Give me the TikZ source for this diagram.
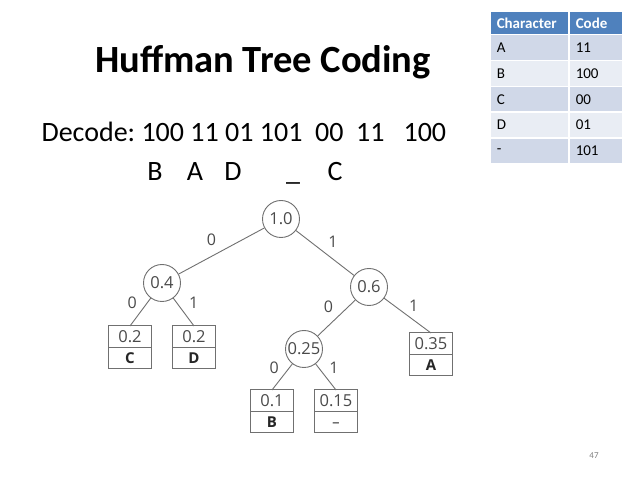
\documentclass[tikz,border=0pt]{standalone}
\usepackage{fontspec}
\setmainfont{Carlito}
\newfontfamily\arbolfont{Open Sans}
\usetikzlibrary{positioning}
\frenchspacing

\definecolor{cabecera}{HTML}{4F81BD}
\definecolor{filaosc}{HTML}{D0D8E8}
\definecolor{filacla}{HTML}{E9EDF4}
\definecolor{trazo}{HTML}{707070}
\definecolor{tinta}{HTML}{4A4A4A}

\begin{document}
\begin{tikzpicture}[
    x=1pt, y=-1pt,
    nodo/.style={circle, draw=trazo, line width=0.9pt, minimum size=37pt, inner sep=0pt,
                 font=\arbolfont\fontsize{16.5}{19}\selectfont, text=tinta},
    hoja/.style={rectangle, draw=trazo, line width=1pt, minimum width=43pt, minimum height=21.5pt,
                 inner sep=0pt, outer sep=0pt, font=\arbolfont\fontsize{16.5}{19}\selectfont, text=tinta},
    letra/.style={hoja, font=\arbolfont\bfseries\fontsize{15}{18}\selectfont, text=black!85},
    rama/.style={draw=trazo, line width=0.9pt},
    etq/.style={font=\arbolfont\fontsize{16}{18}\selectfont, text=tinta, inner sep=3pt},
    celda/.style={draw=white, line width=1.5pt, anchor=north west, inner xsep=7pt, inner ysep=0pt,
                  align=left, font=\fontsize{15}{18}\selectfont},
    grande/.style={font=\fontsize{28}{34}\selectfont}
]
\useasboundingbox[fill=white] (0,0) rectangle (638,478);

% titulo y ejemplo de decodificacion
\node[anchor=base, font=\bfseries\fontsize{38.5}{46}\selectfont] (titulo) at (263,73) {Huffman Tree Coding};
\node[grande, anchor=base west] (deco) at (38,142) {Decode: 100 11 01 101\ \ 00\ \ 11\ \ \ 100};
\node[grande, anchor=base] (lb) at (155,181) {B};
\node[grande, anchor=base] (la) at (195,181) {A};
\node[grande, anchor=base] (ld) at (233,181) {D};
\node[grande, anchor=base] (lg) at (293,181) {\_};
\node[grande, anchor=base] (lc) at (335,181) {C};

% tabla de codigos
\node[celda, fill=cabecera, text=white, font=\bfseries\fontsize{15}{18}\selectfont,
      text width=65pt, minimum height=23pt] (hcar) at (489,11) {Character};
\node[celda, fill=cabecera, text=white, font=\bfseries\fontsize{15}{18}\selectfont,
      text width=40pt, minimum height=23pt] (hcod) at (568,11) {Code};
\foreach \ch/\cd/\col [count=\i] in {A/11/filaosc, B/100/filacla, C/00/filaosc, D/01/filacla, -/101/filaosc}{
  \node[celda, fill=\col, text width=65pt, minimum height=25.8pt] (car\i) at (489,{34+25.8*(\i-1)}) {\ch};
  \node[celda, fill=\col, text width=40pt, minimum height=25.8pt] (cod\i) at (568,{34+25.8*(\i-1)}) {\cd};
}

% arbol
\node[nodo] (raiz) at (281,219) {1.0};
\node[nodo] (n04)  at (162,283) {0.4};
\node[nodo] (n06)  at (369,287) {0.6};
\node[nodo] (n025) at (304,349) {0.25};

\node[hoja, anchor=north] (cval) at (130,326) {0.2};
\node[letra, below=0pt of cval] (cchr) {C};
\node[hoja, anchor=north] (dval) at (194,326) {0.2};
\node[letra, below=0pt of dval] (dchr) {D};
\node[hoja, anchor=north] (aval) at (431,333) {0.35};
\node[letra, below=0pt of aval] (achr) {A};
\node[hoja, anchor=north] (bval) at (272,390) {0.1};
\node[letra, below=0pt of bval] (bchr) {B};
\node[hoja, anchor=north] (gval) at (336,390) {0.15};
\node[letra, below=0pt of gval] (gchr) {\_};

\draw[rama] (raiz) -- node[etq, above left, xshift=-2pt, yshift=2pt] (e1) {0} (n04);
\draw[rama] (raiz) -- node[etq, above right, yshift=2pt] (e2) {1} (n06);
\draw[rama] (n04) -- node[etq, above left] (e3) {0} (cval.north);
\draw[rama] (n04) -- node[etq, above right, xshift=2pt] (e4) {1} (dval.north);
\draw[rama] (n06) -- node[etq, above left, yshift=2pt] (e5) {0} (n025);
\draw[rama] (n06) -- node[etq, above right, xshift=-2pt, yshift=1pt] (e6) {1} (aval.north);
\draw[rama] (n025) -- node[etq, above left] (e7) {0} (bval.north);
\draw[rama] (n025) -- node[etq, above right] (e8) {1} (gval.north);

\node[font=\fontsize{9}{11}\selectfont, text=gray] (pagina) at (594,456) {47};
\end{tikzpicture}
\end{document}
